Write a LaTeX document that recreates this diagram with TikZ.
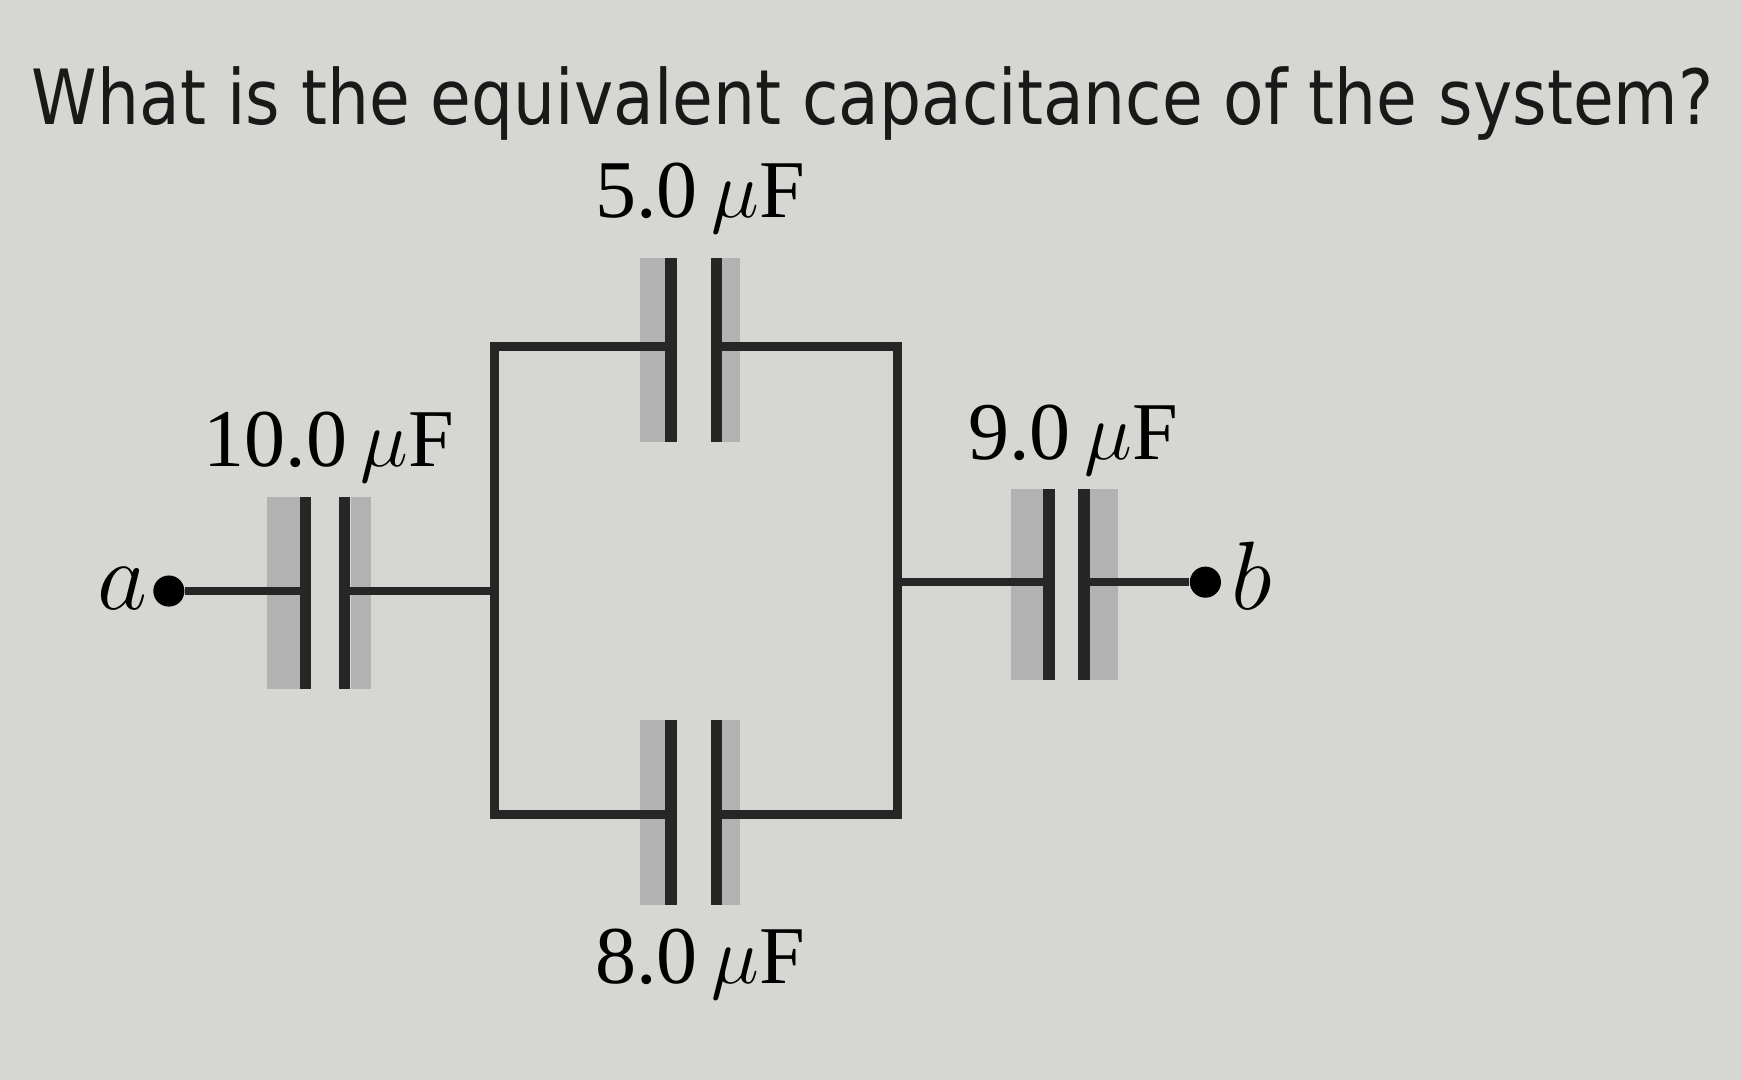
\documentclass[tikz,border=0pt]{standalone}
\usepackage{fontspec}
\setmainfont{Liberation Serif}
\newfontfamily\titlefont{DejaVu Sans}
\begin{document}
\begin{tikzpicture}[x=0.01cm,y=-0.01cm,
  wire/.style={line width=2.2pt,black!85},
  plate/.style={line width=3pt,black!85},
  shade/.style={fill=black!30,draw=none},
  lbl/.style={font=\fontsize{21}{21}\selectfont,inner sep=0pt},
  dot/.style={circle,fill=black,inner sep=0pt,minimum size=0.28cm}]
\useasboundingbox[fill={rgb,255:red,214;green,214;blue,210}] (0,0) rectangle (1568,972);
\node[font=\titlefont\fontsize{19.5}{19.5}\selectfont,anchor=base west,inner sep=0pt,black!90] (title) at (28,112) {\scalebox{0.87}[1]{What is the equivalent capacitance of the system?}};
% shading
\fill[shade] (576,232) rectangle (600,398);
\fill[shade] (650,232) rectangle (666,398);
\fill[shade] (576,648) rectangle (600,815);
\fill[shade] (650,648) rectangle (666,815);
\fill[shade] (240,447) rectangle (270,620);
\fill[shade] (316,447) rectangle (334,620);
\fill[shade] (910,440) rectangle (940,612);
\fill[shade] (980,440) rectangle (1006,612);
% nodes
\node[dot] (a) at (152,532) {};
\node[dot] (b) at (1085,524) {};
\node[lbl,font=\fontsize{23}{23}\selectfont] (la) at (110,530) {$a$};
\node[lbl,font=\fontsize{23}{23}\selectfont] (lb) at (1127,518) {$b$};
\coordinate (tl) at (445,312); \coordinate (tr) at (808,312);
\coordinate (bl) at (445,733); \coordinate (br) at (808,733);
\coordinate (ml) at (445,532); \coordinate (mr) at (808,524);
% plates
\draw[plate] (604,232) -- (604,398); \draw[plate] (645,232) -- (645,398);
\draw[plate] (604,648) -- (604,815); \draw[plate] (645,648) -- (645,815);
\draw[plate] (275,447) -- (275,620); \draw[plate] (310,447) -- (310,620);
\draw[plate] (944,440) -- (944,612); \draw[plate] (976,440) -- (976,612);
% wires
\draw[wire] (604,312) -- (tl) -- (bl) -- (604,733);
\draw[wire] (645,312) -- (tr) -- (br) -- (645,733);
\draw[wire] (a) -- (275,532);
\draw[wire] (310,532) -- (ml);
\draw[wire] (mr) -- (944,524);
\draw[wire] (976,524) -- (b);
% labels
\node[lbl] (c1) at (630,178) {5.0\,$\mu$F};
\node[lbl] (c2) at (296,402) {10.0\,$\mu$F};
\node[lbl] (c3) at (966,396) {9.0\,$\mu$F};
\node[lbl] (c4) at (630,868) {8.0\,$\mu$F};
\end{tikzpicture}
\end{document}
